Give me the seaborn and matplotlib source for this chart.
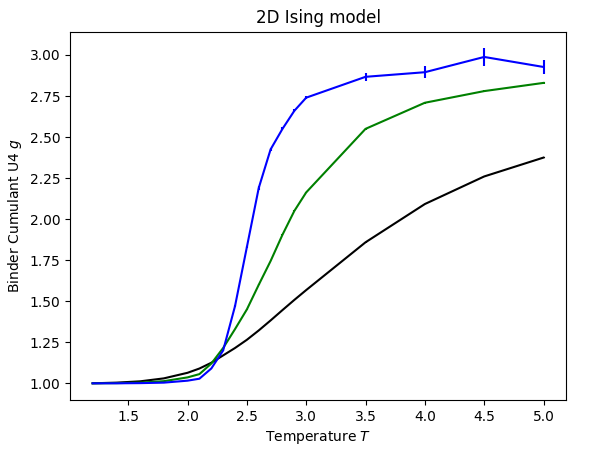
import numpy as np
import pandas as pd
import seaborn as sns
import matplotlib
matplotlib.use("Agg")
import matplotlib.pyplot as plt

temps = [1.2, 1.4, 1.6, 1.8, 2.0, 2.1, 2.2, 2.3, 2.4, 2.5,
         2.6, 2.7, 2.8, 2.9, 3.0, 3.5, 4.0, 4.5, 5.0]

g_small = [1.0, 1.004, 1.012, 1.03, 1.064, 1.09, 1.125, 1.17, 1.215, 1.265,
           1.322, 1.383, 1.446, 1.508, 1.568, 1.859, 2.092, 2.26, 2.375]
err_small = [0.0, 0.0, 0.0, 0.0, 0.0, 0.0, 0.0, 0.0, 0.0, 0.0,
             0.0, 0.0, 0.001, 0.001, 0.001, 0.002, 0.002, 0.002, 0.002]

g_mid = [1.0, 1.001, 1.004, 1.013, 1.036, 1.056, 1.12, 1.215, 1.33, 1.45,
         1.60, 1.745, 1.905, 2.05, 2.163, 2.55, 2.709, 2.78, 2.83]
err_mid = [0.0, 0.0, 0.0, 0.001, 0.001, 0.001, 0.002, 0.002, 0.002, 0.003,
           0.003, 0.003, 0.003, 0.003, 0.004, 0.004, 0.005, 0.005, 0.006]

g_large = [1.0, 1.0, 1.001, 1.004, 1.016, 1.028, 1.09, 1.20, 1.47, 1.83,
           2.19, 2.425, 2.55, 2.66, 2.74, 2.867, 2.895, 2.988, 2.927]
err_large = [0.0, 0.0, 0.0, 0.001, 0.002, 0.003, 0.004, 0.005, 0.006, 0.008,
             0.01, 0.01, 0.01, 0.01, 0.011, 0.023, 0.035, 0.053, 0.041]

series = {"small": (g_small, err_small, "k"),
          "mid": (g_mid, err_mid, "g"),
          "large": (g_large, err_large, "b")}

df = pd.concat([pd.DataFrame({"T": temps, "g": v[0], "err": v[1], "size": k})
                for k, v in series.items()], ignore_index=True)

fig = plt.figure(figsize=(5.99, 4.5), dpi=100)
ax = fig.add_subplot(111)
fig.subplots_adjust(left=0.117, right=0.945, top=0.93, bottom=0.111)

sns.lineplot(data=df, x="T", y="g", hue="size",
             palette={k: v[2] for k, v in series.items()},
             linewidth=1.5, legend=False, ax=ax)
for k, v in series.items():
    sub = df[df["size"] == k]
    ax.errorbar(sub["T"], sub["g"], yerr=sub["err"], fmt="none",
                ecolor=v[2], elinewidth=1.5)

ax.set_title("2D Ising model")
ax.set_xlabel("Temperature $T$")
ax.set_ylabel("Binder Cumulant U4 $g$")
ax.set_xticks(np.arange(1.5, 5.01, 0.5))

plt.savefig("out.png", dpi=100)
